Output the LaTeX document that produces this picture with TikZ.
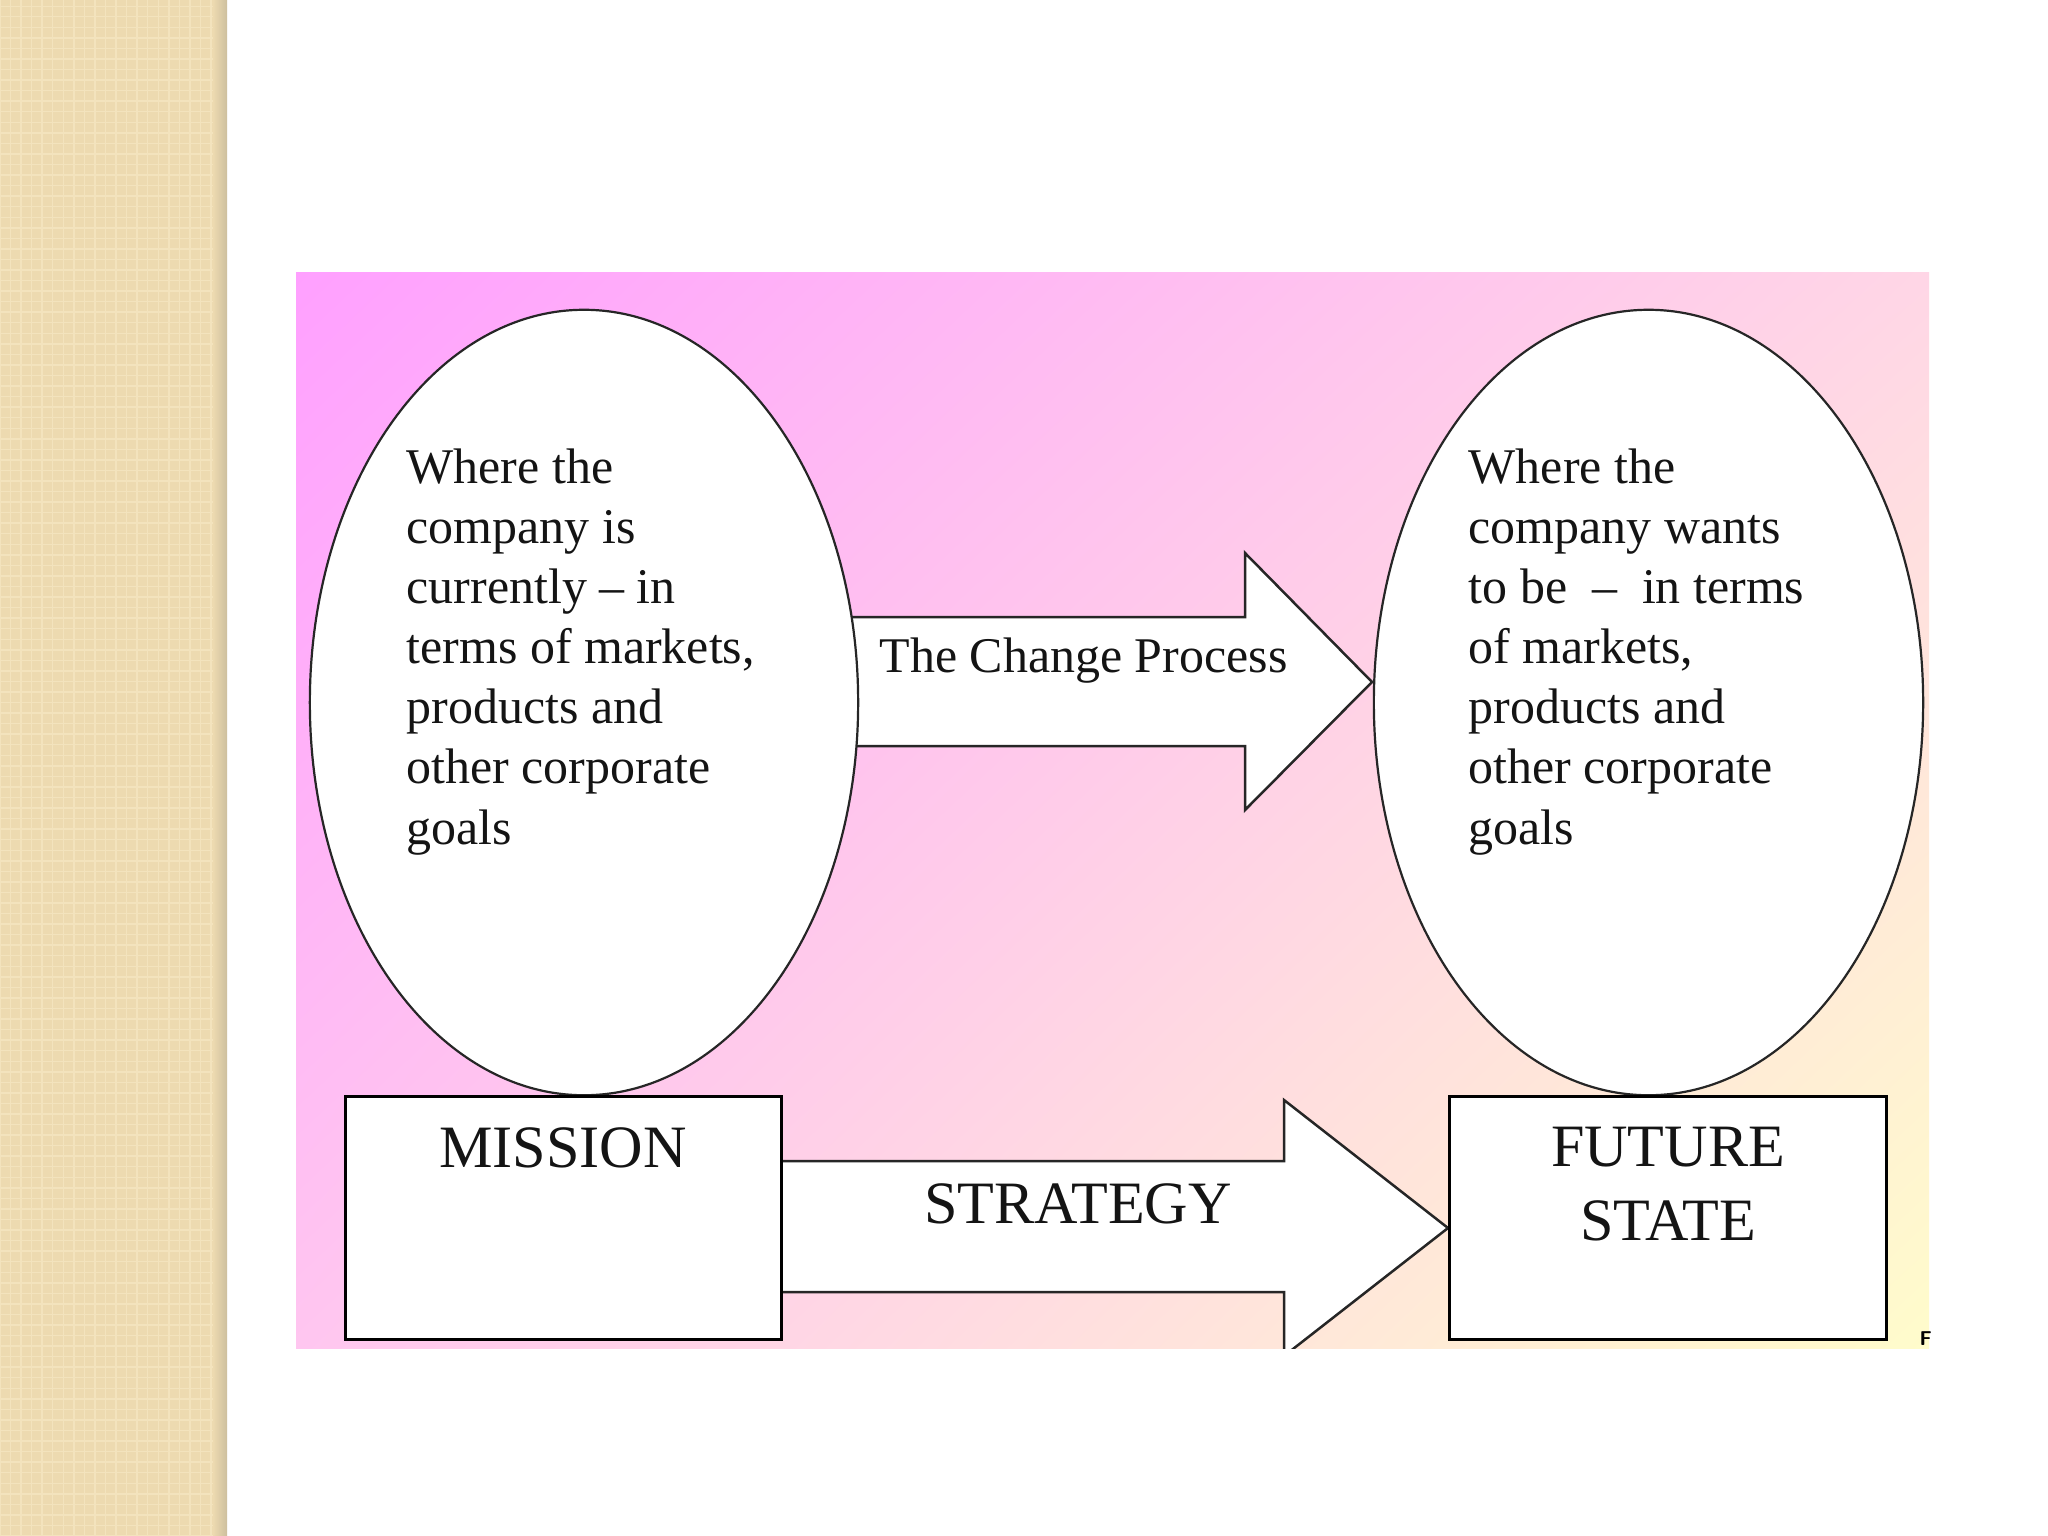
\documentclass[tikz,border=0pt]{standalone}
\usepackage{fontspec}
\setmainfont{Liberation Serif}
\usetikzlibrary{patterns,shapes.geometric,shadings}
\definecolor{beige}{HTML}{EDDAB0}
\definecolor{beigelight}{HTML}{F3E3BD}
\definecolor{beigedark}{HTML}{CDBF9E}
\definecolor{pinkUL}{HTML}{FFA0FF}
\definecolor{pinkUR}{HTML}{FFD6E6}
\definecolor{pinkLL}{HTML}{FFC6F0}
\definecolor{pinkLR}{HTML}{FFFCCB}
\tikzset{
  ovalbox/.style={ellipse, draw=black!85, line width=0.022cm, fill=white, inner sep=0pt},
  statebox/.style={rectangle, draw=black, line width=0.03cm, fill=white, inner sep=0pt},
  blockarrow/.style={draw=black!85, line width=0.025cm, fill=white, line join=miter},
  smalltxt/.style={font=\fontsize{14.2pt}{17.07pt}\selectfont, inner sep=0pt, align=left, text=black!92},
  bigtxt/.style={font=\fontsize{17.1pt}{20.8pt}\selectfont, inner sep=0pt, align=center, text=black!92}
}
\begin{document}
\begin{tikzpicture}[x=0.01cm,y=-0.01cm]
\useasboundingbox (0,0) rectangle (2048,1536);
\fill[white] (0,0) rectangle (2048,1536);
% beige side strip
\fill[beige] (0,0) rectangle (227,1536);
\fill[pattern=grid, pattern color=beigelight] (0,0) rectangle (215,1536);
\shade[left color=beige, right color=beigedark] (213,0) rectangle (227,1536);
% gradient panel
\shade[upper left=pinkUL, upper right=pinkUR, lower left=pinkLL, lower right=pinkLR]
  (296,272) rectangle (1929,1348);
\begin{scope}
\clip (296,272) rectangle (1929,1348);
% change arrow
\draw[blockarrow] (845,617) -- (1245,617) -- (1245,553) -- (1372,682)
  -- (1245,810) -- (1245,746) -- (845,746) -- cycle;
% strategy arrow
\draw[blockarrow] (781,1161) -- (1284,1161) -- (1284,1100) -- (1448,1228)
  -- (1284,1356) -- (1284,1292) -- (781,1292) -- cycle;
% ellipses
\node[ovalbox, minimum width=5.48cm, minimum height=7.85cm] (now) at (584,702.5) {};
\node[ovalbox, minimum width=5.49cm, minimum height=7.85cm] (future) at (1648.5,702.5) {};
% boxes
\node[statebox, minimum width=4.35cm, minimum height=2.42cm] (mission) at (563.5,1218) {};
\node[statebox, minimum width=4.36cm, minimum height=2.42cm] (fstate) at (1668,1218) {};
% texts (base anchor = baseline of last line)
\node[smalltxt, anchor=base west] (nowtxt) at (406,844)
  {Where the\\company is\\currently -- in\\terms of markets,\\products and\\other corporate\\goals};
\node[smalltxt, anchor=base west] (futtxt) at (1468,844)
  {Where the\\company wants\\to be~~--~~in terms\\of markets,\\products and\\other corporate\\goals};
\node[smalltxt, anchor=base west] (chgtxt) at (879,672) {The Change Process};
\node[bigtxt, anchor=base] (misstxt) at (563,1167) {MISSION};
\node[bigtxt, anchor=base] (strtxt) at (1078,1223) {STRATEGY};
\node[bigtxt, anchor=base] (fstxt) at (1668,1240) {FUTURE\\STATE};
\end{scope}
\node[anchor=base west, inner sep=0pt, font=\sffamily\bfseries\fontsize{5.7pt}{6pt}\selectfont] (tinyf) at (1919,1345) {F};
\end{tikzpicture}
\end{document}
